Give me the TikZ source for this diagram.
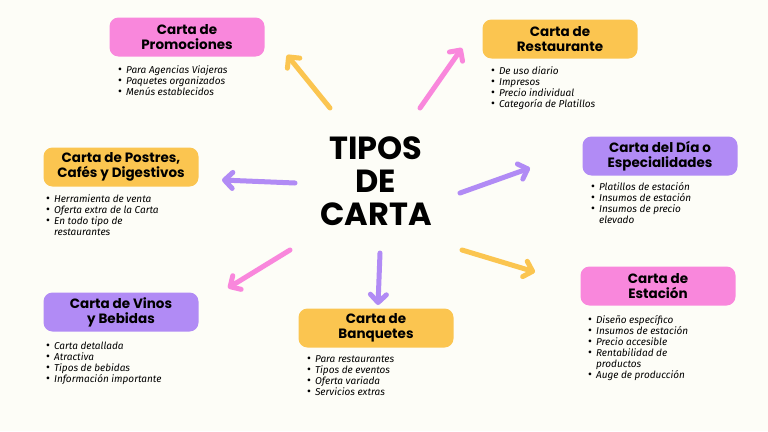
\documentclass[tikz,border=0pt]{standalone}
\usepackage{fontspec}
\setmainfont{Fira Sans}
\newfontfamily\headfont{Poppins}[UprightFont=* Bold]
\usetikzlibrary{arrows.meta}
\definecolor{bgcol}{HTML}{FDFDF7}
\definecolor{pinkc}{HTML}{F987DC}
\definecolor{yellowc}{HTML}{FBC550}
\definecolor{purplec}{HTML}{B18BF5}
\newcommand{\bl}{{\upshape\large\textbullet}\hspace{4pt}}
\newcommand{\bs}{\phantom{\bl}}
\tikzset{
  titlebox/.style={rounded corners=9pt, minimum width=155pt, minimum height=39pt, align=center, inner sep=2pt, font=\headfont\fontsize{13.5}{15}\selectfont},
  itemlist/.style={anchor=north west, align=left, inner sep=0pt, font=\itshape\fontsize{10}{11}\selectfont},
  bigarrow/.style={line width=5pt, line cap=round, -{Straight Barb[length=8pt, width=16pt, line width=5pt, round]}}
}
\begin{document}
\begin{tikzpicture}[x=1pt, y=-1pt]
  \fill[bgcol] (0,0) rectangle (768,431);
  \useasboundingbox (0,0) rectangle (768,431);

  \node[font=\headfont\fontsize{32}{33}\selectfont, align=center] (tipos) at (376,181) {TIPOS\\DE\\CARTA};

  \node[titlebox, fill=pinkc] (promo) at (187,37) {Carta de\\Promociones};
  \node[titlebox, fill=yellowc] (resta) at (560,39) {Carta de\\Restaurante};
  \node[titlebox, fill=yellowc] (postres) at (121,167) {Carta de Postres,\\Cafés y Digestivos};
  \node[titlebox, fill=purplec] (dia) at (660,156) {Carta del Día o\\Especialidades};
  \node[titlebox, fill=purplec] (vinos) at (121,312) {Carta de Vinos\\y Bebidas};
  \node[titlebox, fill=yellowc] (banq) at (376,328) {Carta de\\Banquetes};
  \node[titlebox, fill=pinkc] (estac) at (658,286) {Carta de\\Estación};

  \node[itemlist] (lpromo) at (118,65) {\bl Para Agencias Viajeras\\\bl Paquetes organizados\\\bl Menús establecidos};
  \node[itemlist] (lresta) at (491,66) {\bl De uso diario\\\bl Impresos\\\bl Precio individual\\\bl Categoría de Platillos};
  \node[itemlist] (lpostres) at (46,194) {\bl Herramienta de venta\\\bl Oferta extra de la Carta\\\bl En todo tipo de\\\bs restaurantes};
  \node[itemlist] (ldia) at (591,182) {\bl Platillos de estación\\\bl Insumos de estación\\\bl Insumos de precio\\\bs elevado};
  \node[itemlist] (lvinos) at (46,342) {\bl Carta detallada\\\bl Atractiva\\\bl Tipos de bebidas\\\bl Información importante};
  \node[itemlist] (lbanq) at (307,355) {\bl Para restaurantes\\\bl Tipos de eventos\\\bl Oferta variada\\\bl Servicios extras};
  \node[itemlist] (lestac) at (588,315) {\bl Diseño específico\\\bl Insumos de estación\\\bl Precio accesible\\\bl Rentabilidad de\\\bs productos\\\bl Auge de producción};

  % arrow ends
  \coordinate (a1) at (330,108); \coordinate (b1) at (287,55);
  \coordinate (a2) at (420,108); \coordinate (b2) at (462,48);
  \coordinate (a3) at (295,183); \coordinate (b3) at (222,180);
  \coordinate (a4) at (460,193); \coordinate (b4) at (530,168);
  \coordinate (a5) at (290,250); \coordinate (b5) at (228,288);
  \coordinate (a6) at (380,253); \coordinate (b6) at (378,305);
  \coordinate (a7) at (462,250); \coordinate (b7) at (535,272);
  \draw[bigarrow, yellowc] (a1) -- (b1);
  \draw[bigarrow, pinkc] (a2) -- (b2);
  \draw[bigarrow, purplec] (a3) -- (b3);
  \draw[bigarrow, purplec] (a4) -- (b4);
  \draw[bigarrow, pinkc] (a5) -- (b5);
  \draw[bigarrow, purplec] (a6) -- (b6);
  \draw[bigarrow, yellowc] (a7) -- (b7);
\end{tikzpicture}
\end{document}
